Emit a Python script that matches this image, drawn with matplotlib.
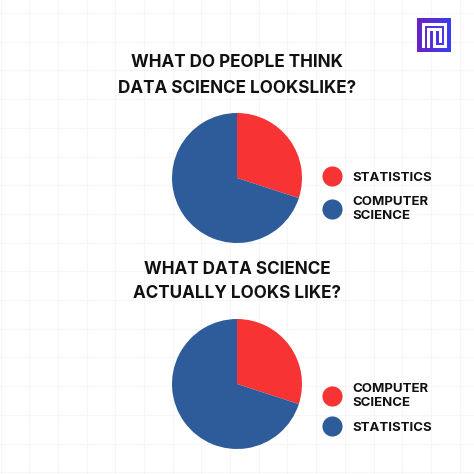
import numpy as np
import matplotlib
matplotlib.use("Agg")
import matplotlib.pyplot as plt
from matplotlib.lines import Line2D

plt.rcParams['font.family'] = ['Inter', 'DejaVu Sans']

# data
title_top = ["WHAT DO PEOPLE THINK", "DATA SCIENCE LOOKSLIKE?"]
title_bottom = ["WHAT DATA SCIENCE", "ACTUALLY LOOKS LIKE?"]
shares = [30, 70]
labels_top = ["STATISTICS", "COMPUTER\nSCIENCE"]
labels_bottom = ["COMPUTER\nSCIENCE", "STATISTICS"]
colors = ["#F73334", "#2E5C9A"]

W = 474
fig = plt.figure(figsize=(4.74, 4.74), dpi=100)
fig.patch.set_facecolor("white")

# background axes in pixel coordinates
bg = fig.add_axes([0, 0, 1, 1])
bg.axis("off")
for g in np.arange(0.5, W, 28.7):
    bg.axvline(g, color="#f6f6f6", lw=0.8, zorder=0)
for g in np.arange(13, W, 28.7):
    bg.axhline(g, color="#f6f6f6", lw=0.8, zorder=0)

# logo
grad = np.linspace(0, 1, 50)[None, :]
cmap = matplotlib.colors.LinearSegmentedColormap.from_list("lg", ["#6a22c4", "#3a3df2"])
bg.imshow(grad, extent=(417, 451, 52, 18), cmap=cmap, aspect="auto", zorder=2)
bg.plot([423, 423, 445, 445, 434, 434], [46, 24, 24, 46, 46, 30], color="white", lw=2.2, zorder=3, solid_joinstyle="miter")
bg.plot([428, 428, 440, 440], [46, 29, 29, 41], color="white", lw=2.2, zorder=3, solid_joinstyle="miter")
bg.set_xlim(0, W)
bg.set_ylim(W, 0)

tkw = dict(ha="center", va="center", fontsize=12.3, fontweight="bold", color="#111111")
for line, y in zip(title_top, [62, 88]):
    bg.text(237, y, line, **tkw)
for line, y in zip(title_bottom, [270, 294]):
    bg.text(237, y, line, **tkw)


def add_pie(cy, labels, leg_y):
    r = 65
    ax = fig.add_axes([(237 - r) / W, (W - cy - r) / W, 2 * r / W, 2 * r / W])
    ax.pie(shares, colors=colors, startangle=90, counterclock=False, radius=1,
           wedgeprops=dict(linewidth=0))
    ax.set_xlim(-1, 1)
    ax.set_ylim(-1, 1)
    ax.set_aspect("equal")
    handles = [Line2D([], [], marker="o", ls="", markersize=14.5, markerfacecolor=c, markeredgewidth=0)
               for c in colors]
    fig.legend(handles, labels, loc="center left", bbox_to_anchor=(317 / W, 1 - leg_y / W),
               frameon=False, borderaxespad=0, handletextpad=0.8, labelspacing=0.93,
               handlelength=1.45, prop=dict(size=9.5, weight="bold"), labelcolor="#111111")


add_pie(178, labels_top, 196.5)
add_pie(384, labels_bottom, 408.5)

fig.savefig("out.png", dpi=100, facecolor="white")
